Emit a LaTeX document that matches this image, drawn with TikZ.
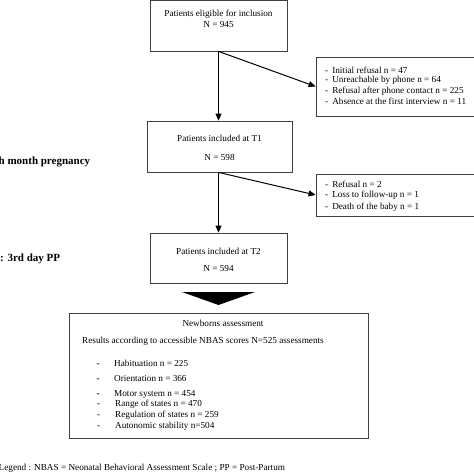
\documentclass[tikz,border=0pt]{standalone}
\usepackage{fontspec}
\setmainfont{Liberation Serif}
\usetikzlibrary{arrows.meta}

\tikzset{
  box/.style={draw=black!75, line width=0.8pt, inner sep=0pt},
  txt/.style={inner sep=0pt, font=\fontsize{9.2}{11}\selectfont},
  flow/.style={-{Triangle[length=7pt,width=6pt]}, line width=1pt},
  period/.style={inner sep=0pt, anchor=west, font=\fontsize{11}{13}\selectfont\bfseries}
}

\begin{document}
\begin{tikzpicture}[x=1pt,y=-1pt]
      \clip (0,0) rectangle (474,474);
      %Flow boxes
      \node[box, minimum width=137pt, minimum height=51pt] (eligible) at (218.5,25.5) {};
      \node[box, minimum width=145pt, minimum height=51pt] (tone) at (219.5,146.5) {};
      \node[box, minimum width=137pt, minimum height=50pt] (ttwo) at (218.5,258) {};
      \node[box, minimum width=299pt, minimum height=125pt] (newborns) at (218.5,375.5) {};
      %Exclusion boxes
      \node[box, minimum width=160pt, minimum height=59pt] (lostone) at (396,86.5) {};
      \node[box, minimum width=160pt, minimum height=42pt] (losttwo) at (396,195) {};
      %Box texts
      \node[txt] (eligtitle) at (218.5,14) {Patients eligible for inclusion};
      \node[txt] (elign) at (218.5,24) {N = 945};
      \node[txt] (tonetitle) at (219.5,138) {Patients included at T1};
      \node[txt] (tonen) at (219.5,157) {N = 598};
      \node[txt] (ttwotitle) at (218.5,251) {Patients included at T2};
      \node[txt] (ttwon) at (218.5,268) {N = 594};
      %Exclusion lists
      \foreach \t [count=\i] in {Initial refusal n = 47, Unreachable by phone n = 64,
          Refusal after phone contact n = 225, Absence at the first interview n = 11}
        \node[txt, anchor=west] (lostone\i) at (325,59.5+10.5*\i) {-\hspace{4pt}\t};
      \foreach \t [count=\i] in {Refusal n = 2, Loss to follow-up n = 1, Death of the baby n = 1}
        \node[txt, anchor=west] (losttwo\i) at (325,172.5+11.5*\i) {-\hspace{4pt}\t};
      %Newborns assessment
      \node[txt] (nbtitle) at (223,323) {Newborns assessment};
      \node[txt, anchor=west] (nbresults) at (82,341) {Results according to accessible NBAS scores N=525 assessments};
      \foreach \t/\y [count=\i] in {Habituation n = 225/363, Orientation n = 366/378, Motor system n = 454/393}
        \node[txt, anchor=base west] (nbitem\i) at (96.5,\y+3) {\makebox[17.5pt][l]{\textbf{-}}\t};
      \foreach \t/\y [count=\i from 4] in {Range of states n = 470/403.5, Regulation of states n = 259/414.5, Autonomic stability n=504/425}
        \node[txt, anchor=base west] (nbitem\i) at (97,\y+3) {\makebox[18pt][l]{-}\t};
      %Periods and legend
      \node[period] (periodone) at (-1.5,162) {h month pregnancy};
      \node[period] (periodtwo) at (0,259) {: 3rd day PP};
      \node[txt, anchor=west] (legend) at (-1.5,468) {Legend : NBAS = Neonatal Behavioral Assessment Scale ; PP = Post-Partum};
      %Arrows
      \draw[flow] (eligible.south) -- (eligible.south |- tone.north);
      \draw[flow] (eligible.south) -- (lostone.west);
      \draw[flow] (tone.south -| eligible.south) -- (eligible.south |- ttwo.north);
      \draw[flow] (tone.south -| eligible.south) -- (losttwo.west);
      \fill (182,292) -- (255,292) -- (218.5,305) -- cycle;
\end{tikzpicture}
\end{document}
